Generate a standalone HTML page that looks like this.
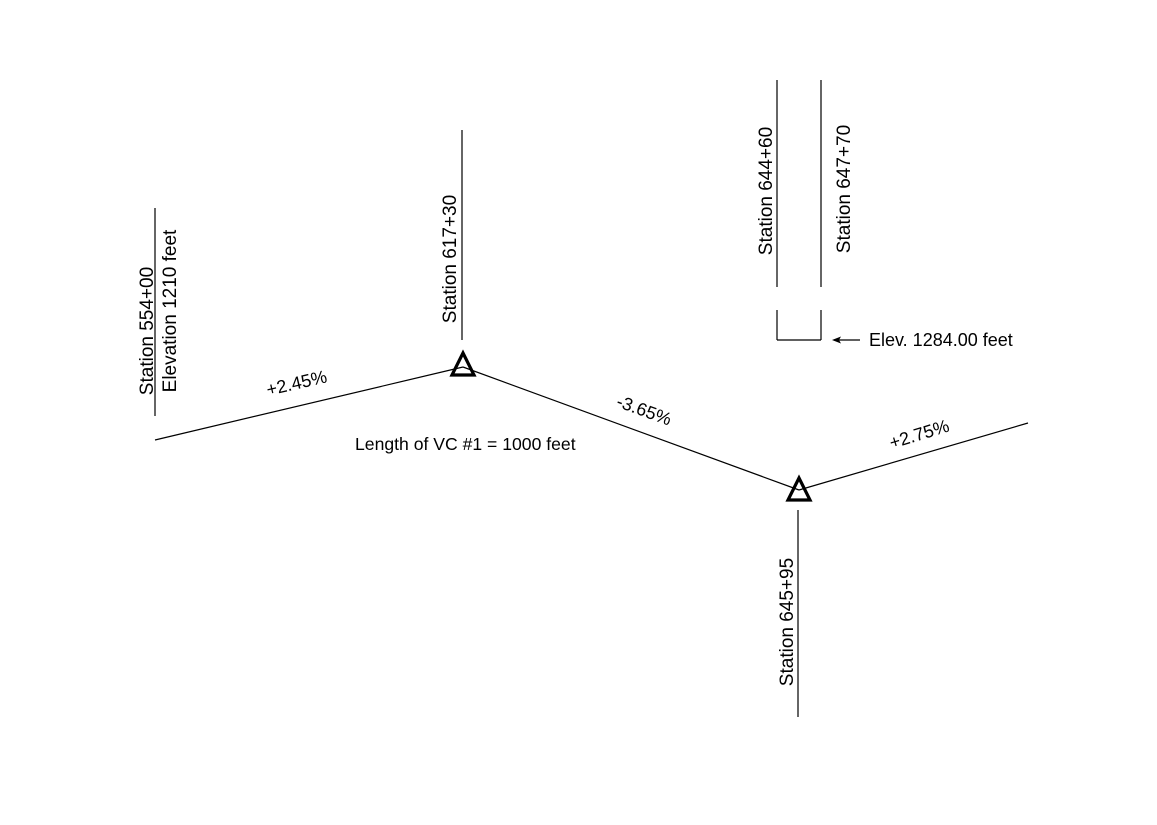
<!DOCTYPE html>
<html><head><style>body{margin:0;background:#fff}svg{display:block}text{font-family:"Liberation Sans",Arial,sans-serif;fill:#000}</style></head>
<body>
<svg width="1157" height="825" viewBox="0 0 1157 825" xmlns="http://www.w3.org/2000/svg">
<g stroke="#000" stroke-width="1.2" fill="none">
<line x1="155" y1="440" x2="463" y2="367"/>
<line x1="463" y1="367" x2="799" y2="490"/>
<line x1="799" y1="490" x2="1028" y2="423"/>
<line x1="155" y1="208" x2="155" y2="416"/>
<line x1="462" y1="130" x2="462" y2="340"/>
<line x1="777" y1="80" x2="777" y2="287"/>
<line x1="821" y1="80" x2="821" y2="287"/>
<line x1="777" y1="310" x2="777" y2="340"/>
<line x1="821" y1="310" x2="821" y2="340"/>
<line x1="777" y1="340" x2="821" y2="340"/>
<line x1="798" y1="510" x2="798" y2="717"/>
<line x1="834" y1="340" x2="860" y2="340"/>
</g>
<path d="M832 340 L841 336.5 L839 340 L841 343.5 Z" fill="#000"/>
<g stroke="#000" stroke-width="3.2" fill="none" stroke-linejoin="miter">
<path d="M463 353 L474 375 L452 375 Z"/>
<path d="M799 478 L810 500 L788 500 Z"/>
</g>
<text x="869" y="346" style="font-size:18px">Elev.  1284.00 feet</text>
<text x="355" y="450" style="font-size:17.6px">Length of VC #1 = 1000 feet</text>
<g style="font-size:19px" text-anchor="middle">
<text transform="translate(153,331) rotate(-90)">Station 554+00</text>
<text transform="translate(176,311) rotate(-90)">Elevation 1210 feet</text>
<text transform="translate(456,259) rotate(-90)">Station 617+30</text>
<text transform="translate(772,191) rotate(-90)">Station 644+60</text>
<text transform="translate(850,189) rotate(-90)">Station 647+70</text>
<text transform="translate(793,622) rotate(-90)">Station 645+95</text>
</g>
<g style="font-size:18px" text-anchor="middle">
<text transform="translate(298,389) rotate(-13)">+2.45%</text>
<text transform="translate(642,416) rotate(20)">-3.65%</text>
<text transform="translate(921,440) rotate(-17)">+2.75%</text>
</g>
</svg>
</body></html>
